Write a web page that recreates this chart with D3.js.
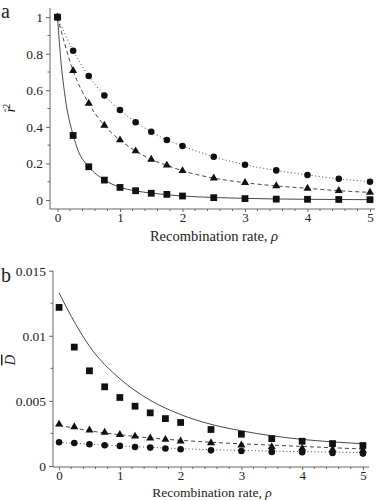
<!DOCTYPE html>
<html><head><meta charset="utf-8">
<script src="https://cdn.jsdelivr.net/npm/d3@7"></script>
<style>
body{margin:0;background:#fff;}
text{font-family:"Liberation Serif","Times New Roman","DejaVu Serif",serif;fill:#222;}
</style></head>
<body><svg id="c" width="377" height="500"></svg>
<script>
// ---------- data ----------
const rho = [0,0.25,0.5,0.75,1,1.25,1.5,1.75,2,2.5,3,3.5,4,4.5,5];
// panel a : r^2
const aSquare   = [1,0.353,0.182,0.109,0.069,0.051,0.037,0.031,0.022,0.013,0.008,0.005,0.004,0.003,0.002];
const aTriangle = [1,0.707,0.528,0.408,0.328,0.268,0.222,0.19,0.16,0.12,0.095,0.077,0.064,0.051,0.042];
const aCircle   = [1,0.816,0.678,0.572,0.492,0.425,0.373,0.328,0.295,0.237,0.193,0.162,0.137,0.116,0.1];
const aSolidX   = [0,0.03,0.06,0.1,0.15,0.2,0.25,0.33,0.5,0.75,1,1.25,1.5,2,2.5,3,4,5];
const aSolidY   = [1,0.86,0.74,0.62,0.5,0.42,0.355,0.27,0.182,0.11,0.07,0.05,0.038,0.022,0.014,0.009,0.004,0.002];
const aTicks    = [0,0.2,0.4,0.6,0.8,1];
// panel b : D
const bSquare   = [0.01218,0.00913,0.00731,0.00608,0.00526,0.00459,0.00408,0.00364,0.00334,0.0028,0.00244,0.0021,0.0019,0.00172,0.00157];
const bTriangle = [0.0032,0.003,0.00275,0.00257,0.00241,0.00228,0.00213,0.00203,0.0019,0.00177,0.00159,0.00146,0.00134,0.00126,0.0012];
const bCircle   = [0.00182,0.00177,0.00167,0.00159,0.00154,0.00146,0.00141,0.00134,0.00128,0.0012,0.00115,0.00108,0.00106,0.001,0.00095];
const bCurveX   = [0,0.2,0.5,1,1.5,2,2.5,3,3.5,4,4.5,5];
const bSolidY   = [0.0133,0.0115,0.0092,0.0067,0.00505,0.00395,0.0032,0.0027,0.00232,0.00204,0.00185,0.0017];
const bDashY    = [0.0031,0.00295,0.0027,0.0024,0.00215,0.00197,0.00182,0.0017,0.0016,0.0015,0.0014,0.0013];
const bDotY     = [0.0018,0.00175,0.00167,0.00155,0.00143,0.00133,0.00125,0.00119,0.00114,0.0011,0.00106,0.00103];
const bTicks    = [0,0.005,0.01,0.015];
const xTicks    = [0,1,2,3,4,5];

const FONT = '"Liberation Serif","Times New Roman","DejaVu Serif",serif';
const svg = d3.select("#c");
const lineCol = "#333", axisCol = "#666";

function panel(cfg){
  const x = d3.scaleLinear().domain(cfg.xd).range(cfg.xr);
  const y = d3.scaleLinear().domain(cfg.yd).range(cfg.yr);
  const g = svg.append("g");
  const xAxis = d3.axisBottom(x).tickValues(xTicks).tickFormat(d3.format("d")).tickSize(3).tickPadding(1);
  const gx = g.append("g").attr("transform",`translate(0,${cfg.yr[0]})`).call(xAxis);
  gx.selectAll(".minor").data(d3.range(0,5.01,0.2).filter(v=>Math.abs(v-Math.round(v))>1e-6))
    .enter().append("line").attr("x1",d=>x(d)).attr("x2",d=>x(d)).attr("y1",0).attr("y2",2).attr("stroke",axisCol);
  const yAxis = d3.axisLeft(y).tickValues(cfg.yt).tickFormat(cfg.yf).tickSize(4).tickPadding(3);
  const gy = g.append("g").attr("transform",`translate(${cfg.xr[0]},0)`).call(yAxis);
  gy.selectAll(".minor").data(cfg.ym).enter().append("line")
    .attr("x1",0).attr("x2",-2.5).attr("y1",d=>y(d)).attr("y2",d=>y(d)).attr("stroke",axisCol);
  [gx,gy].forEach(a=>{
    a.attr("font-family",FONT).attr("font-size",13.5);
    a.select(".domain").attr("stroke",axisCol);
    a.selectAll(".tick line").attr("stroke",axisCol);
    a.selectAll("text").attr("fill","#222");
  });
  gx.attr("font-size",13);
  gx.select(".domain").attr("d",`M${cfg.xr[0]},0H${cfg.xr[1]}`);
  gy.select(".domain").attr("d",`M0,${cfg.yr[0]}V${cfg.yr[1]}`);

  const ln = d3.line().x(d=>x(d[0])).y(d=>y(d[1])).curve(d3.curveMonotoneX);
  cfg.lines.forEach(L=>{
    g.append("path").attr("d",ln(L.x.map((v,i)=>[v,L.y[i]]))).attr("fill","none")
      .attr("stroke",lineCol).attr("stroke-width",0.9).attr("stroke-dasharray",L.dash||null);
  });
  const sym = {circle:d3.symbolCircle, triangle:d3.symbolTriangle, square:d3.symbolSquare};
  const size = {circle:34, triangle:28, square:46};
  cfg.points.forEach(P=>{
    g.append("g").selectAll("path").data(rho.map((v,i)=>[v,P.y[i]])).enter().append("path")
      .attr("transform",d=>`translate(${x(d[0])},${y(d[1])})`)
      .attr("d",d3.symbol().type(sym[P.s]).size(size[P.s])).attr("fill","#111");
  });
  g.append("text").attr("x",cfg.tx).attr("y",cfg.ty).attr("text-anchor","middle")
    .attr("font-family",FONT).attr("font-size",cfg.tf)
    .text("Recombination rate, ").append("tspan").style("font-style","italic").text("ρ");
  return {x,y,g};
}

panel({
  xd:[-0.12,5.08], xr:[50,375], yd:[-0.049,1.05], yr:[209,8],
  yt:aTicks, yf:d=>d===0?"0":(d===1?"1":d3.format(".1f")(d)), ym:[0.1,0.3,0.5,0.7,0.9],
  lines:[{x:aSolidX,y:aSolidY},{x:rho,y:aTriangle,dash:"4,3"},{x:rho,y:aCircle,dash:"1,2.5"}],
  points:[{s:"circle",y:aCircle},{s:"triangle",y:aTriangle},{s:"square",y:aSquare}],
  tx:214, ty:241, tf:14.5
});
panel({
  xd:[-0.1,5.1], xr:[53,369], yd:[-0.00008,0.015], yr:[467,270.7],
  yt:bTicks, yf:d=>d===0?"0":String(+d.toFixed(3)), ym:[0.0025,0.0075,0.0125],
  lines:[{x:bCurveX,y:bSolidY},{x:bCurveX,y:bDashY,dash:"4,3"},{x:bCurveX,y:bDotY,dash:"1,2.5"}],
  points:[{s:"circle",y:bCircle},{s:"triangle",y:bTriangle},{s:"square",y:bSquare}],
  tx:212, ty:496.5, tf:13.5
});

// y titles
const ya = svg.append("text").attr("transform","translate(15,108) rotate(-90)").attr("text-anchor","middle")
  .attr("font-family",FONT).attr("font-size",14);
ya.append("tspan").style("font-style","italic").text("r");
ya.append("tspan").attr("dx",-5.5).attr("dy",-3).attr("font-size",11).text("\u02C6");
ya.append("tspan").attr("dx",0).attr("dy",-2).attr("font-size",10).text("2");
svg.append("text").attr("transform","translate(15,360) rotate(-90)").attr("text-anchor","middle")
  .attr("font-family",FONT).attr("font-size",15).style("font-style","italic")
  .style("text-decoration","overline").text("D");
// panel letters
svg.append("text").attr("x",1).attr("y",18).attr("font-family",FONT).attr("font-size",20).text("a");
svg.append("text").attr("x",1).attr("y",282).attr("font-family",FONT).attr("font-size",20).text("b");
</script></body></html>
